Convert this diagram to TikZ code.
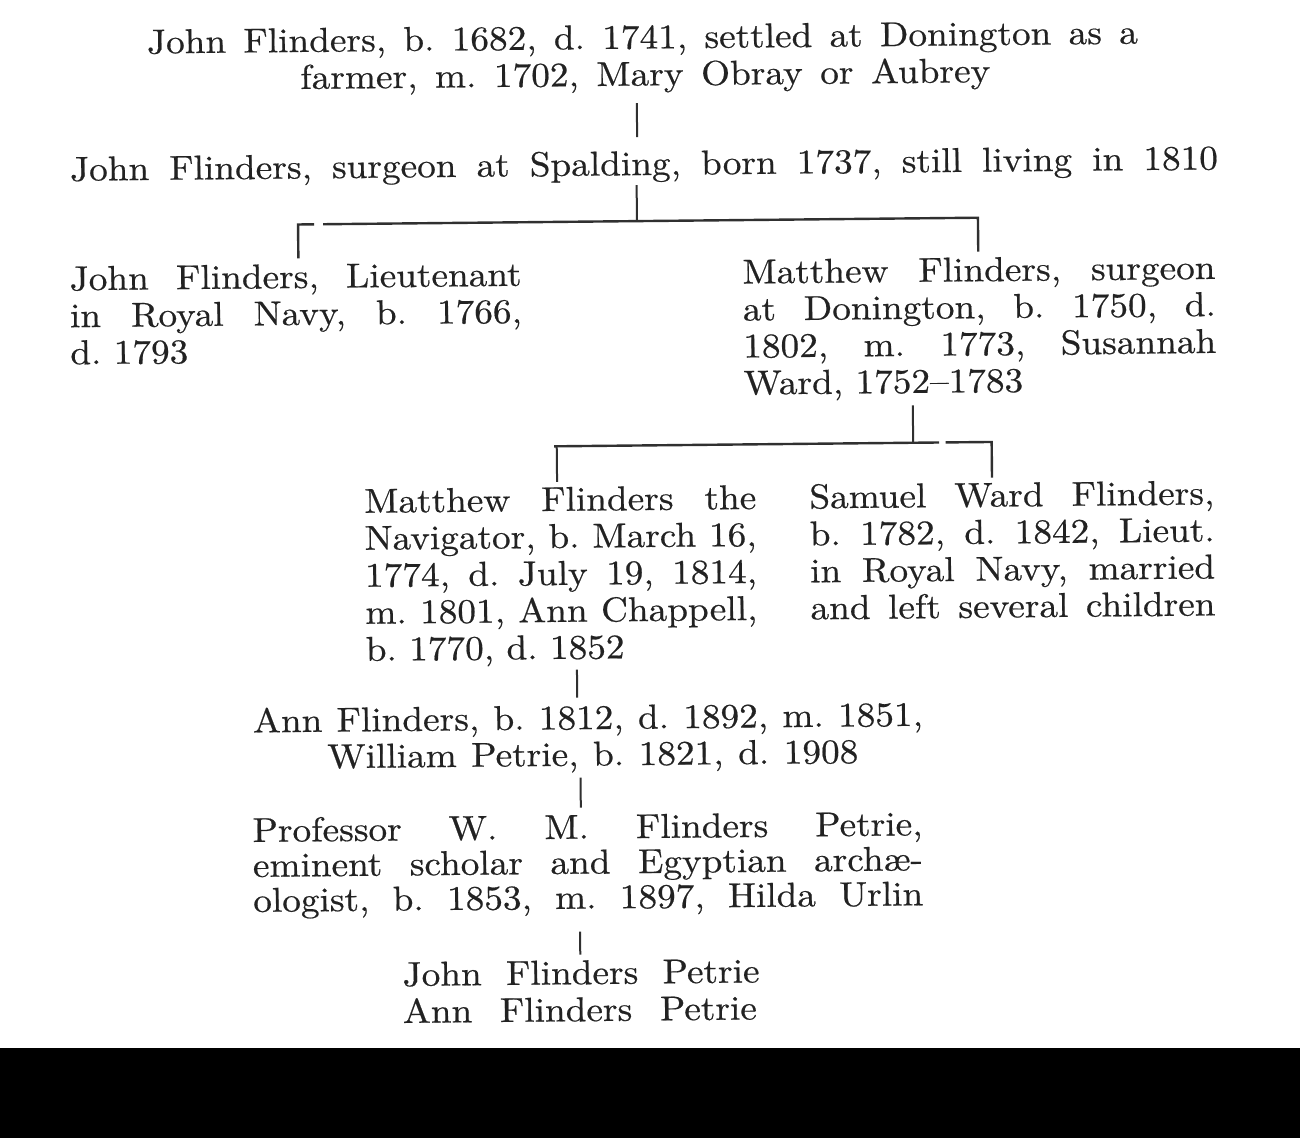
\documentclass[tikz,border=0pt]{standalone}
\usepackage{fontspec}
\setmainfont{lmroman10-regular.otf}[FakeStretch=1.08,FakeBold=0.5]
\definecolor{ink}{HTML}{222222}
\definecolor{rulec}{HTML}{303030}
% justified line: offset, width, text
\newcommand\tjl[3]{\hbox{\kern#1pt\hbox to #2pt{#3}}}
% natural line: offset, text
\newcommand\tnl[2]{\hbox{\kern#1pt #2}}
% block of lines with fixed baseline distance
\newcommand\tblk[2]{\vtop{\baselineskip=#1pt\lineskiplimit=-1000pt\lineskip=0pt #2}}
\tikzset{
  txt/.style={anchor=base west, inner sep=0pt, outer sep=0pt, text=ink,
    font=\fontsize{34.5}{37}\selectfont\frenchspacing},
  conn/.style={draw=rulec, line width=2pt, line cap=butt, line join=miter},
  hconn/.style={draw=rulec, line width=2.4pt, line cap=butt, line join=miter}
}
\begin{document}
\begin{tikzpicture}[x=1pt,y=-1pt]
\useasboundingbox (0,0) rectangle (1300,1138);
\fill[white] (0,0) rectangle (1300,1138);
\begin{scope}[rotate around={0.57:(650,520)}, transform shape]
% persons
\node[txt] (a) at (151.7,48.5) {\tblk{37}{%
  \tjl{0}{991}{John Flinders, b. 1682, d. 1741, settled at Donington as a}%
  \tjl{153}{690}{farmer, m. 1702, Mary Obray or Aubrey}}};
\node[txt] (b) at (73.5,175) {\tblk{37}{%
  \tjl{0}{1148}{John Flinders, surgeon at Spalding, born 1737, still living in 1810}}};
\node[txt] (c) at (72,284.5) {\tblk{37}{%
  \tjl{0}{452}{John Flinders, Lieutenant}%
  \tjl{0}{452}{in Royal Navy, b. 1766,}%
  \tnl{0}{d. 1793}}};
\node[txt] (d) at (745,284.5) {\tblk{37}{%
  \tjl{0}{473}{Matthew Flinders, surgeon}%
  \tjl{0}{473}{at Donington, b. 1750, d.}%
  \tjl{0}{473}{1802, m. 1773, Susannah}%
  \tnl{0}{Ward, 1752--1783}}};
\node[txt] (e) at (364.5,510) {\tblk{37}{%
  \tjl{0}{392}{Matthew Flinders the}%
  \tjl{0}{392}{Navigator, b. March 16,}%
  \tjl{0}{392}{1774, d. July 19, 1814,}%
  \tjl{0}{392}{m. 1801, Ann Chappell,}%
  \tnl{0}{b. 1770, d. 1852}}};
\node[txt] (f) at (809.6,510) {\tblk{37}{%
  \tjl{0}{405}{Samuel Ward Flinders,}%
  \tjl{0}{405}{b. 1782, d. 1842, Lieut.}%
  \tjl{0}{405}{in Royal Navy, married}%
  \tjl{0}{405}{and left several children}}};
\node[txt] (g) at (251,728.5) {\tblk{36.5}{%
  \tjl{0}{670}{Ann Flinders, b. 1812, d. 1892, m. 1851,}%
  \tjl{74}{531}{William Petrie, b. 1821, d. 1908}}};
\node[txt] (h) at (249.5,838) {\tblk{35}{%
  \tjl{0}{670}{Professor W. M. Flinders Petrie,}%
  \tjl{0}{670}{eminent scholar and Egyptian archæ-}%
  \tjl{0}{670}{ologist, b. 1853, m. 1897, Hilda Urlin}}};
\node[txt] (i) at (398,983.5) {\tblk{37}{%
  \tjl{0}{357}{John Flinders Petrie}%
  \tjl{0}{354}{Ann Flinders Petrie}}};
% connector points
\coordinate (v1t) at (641,103);   \coordinate (v1b) at (641,137);
\coordinate (v2t) at (640,185);   \coordinate (v2b) at (640,221);
\coordinate (h1d1) at (317,221);  \coordinate (h1d2) at (301,221);
\coordinate (c1) at (301,255);
\coordinate (h1a) at (326,221);   \coordinate (h1b) at (981,221);
\coordinate (d1) at (981,255);
\coordinate (v3t) at (914,408);   \coordinate (v3b) at (914,445.4);
\coordinate (h2a) at (555,445.4); \coordinate (h2b) at (940,445.4);
\coordinate (h2c) at (946.5,445.4); \coordinate (h2d) at (992.5,445.4);
\coordinate (e1t) at (557.5,445.4); \coordinate (e1) at (557.5,481);
\coordinate (f1) at (992.5,481);
\coordinate (v4t) at (575.5,669); \coordinate (v4b) at (575.5,697);
\coordinate (v5t) at (578,777);   \coordinate (v5b) at (578,807);
\coordinate (v6t) at (576,931);   \coordinate (v6b) at (576,954);
% connectors
\draw[conn] (v1t) -- (v1b);
\draw[conn] (v2t) -- (v2b);
\draw[hconn] (h1d1) -- (h1d2) -- (c1);
\draw[hconn] (h1a) -- (h1b) -- (d1);
\draw[conn] (v3t) -- (v3b);
\draw[hconn] (h2a) -- (h2b);
\draw[conn] (e1t) -- (e1);
\draw[hconn] (h2c) -- (h2d) -- (f1);
\draw[conn] (v4t) -- (v4b);
\draw[conn] (v5t) -- (v5b);
\draw[conn] (v6t) -- (v6b);
\end{scope}
\fill[black] (0,1048) rectangle (1300,1138);
\end{tikzpicture}
\end{document}
